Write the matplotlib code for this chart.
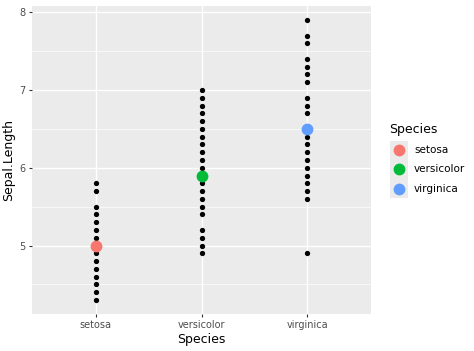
import matplotlib.pyplot as plt
from matplotlib.patches import Rectangle

# Значения (уникальные длины чашелистика по видам)
species = ["setosa", "versicolor", "virginica"]
setosa = [4.3, 4.4, 4.5, 4.6, 4.7, 4.8, 4.9, 5.0, 5.1, 5.2, 5.3, 5.4, 5.5, 5.7, 5.8]
versicolor = [4.9, 5.0, 5.1, 5.2, 5.4, 5.5, 5.6, 5.7, 5.8, 5.9, 6.0, 6.1, 6.2,
              6.3, 6.4, 6.5, 6.6, 6.7, 6.8, 6.9, 7.0]
virginica = [4.9, 5.6, 5.7, 5.8, 5.9, 6.0, 6.1, 6.2, 6.3, 6.4, 6.5, 6.7, 6.8,
             6.9, 7.1, 7.2, 7.3, 7.4, 7.6, 7.7, 7.9]
medians = [5.0, 5.9, 6.5]
colors = ["#F8766D", "#00BA38", "#619CFF"]

W, H = 474, 351
fig = plt.figure(figsize=(W / 100, H / 100), dpi=100)
ax = fig.add_axes([32 / W, 1 - 314 / H, 339 / W, 308 / H])
ax.set_facecolor("#EBEBEB")

groups = [setosa, versicolor, virginica]
for i, vals in enumerate(groups):
    ax.plot([i + 1] * len(vals), vals, "o", color="black", ms=3.8, mew=0, zorder=3)
for i, m in enumerate(medians):
    ax.plot(i + 1, m, "o", color=colors[i], ms=8.5, mew=0, zorder=4)

ax.set_xlim(0.4, 3.6)
ax.set_ylim(4.12, 8.08)
ax.set_xticks([1, 2, 3])
ax.set_xticklabels(species)
ax.set_yticks([5, 6, 7, 8])
ax.set_yticks([4.5, 5.5, 6.5, 7.5], minor=True)
ax.grid(True, which="major", color="white", lw=1.0)
ax.grid(True, which="minor", axis="y", color="white", lw=0.5)
ax.set_axisbelow(True)
for s in ax.spines.values():
    s.set_visible(False)
ax.tick_params(which="major", length=2.5, color="#333333", labelcolor="#4D4D4D",
               labelsize=7, pad=2)
ax.tick_params(which="minor", length=0)
ax.set_xlabel("Species", fontsize=9, labelpad=2)
ax.set_ylabel("Sepal.Length", fontsize=9, labelpad=3)

# Легенда вручную (в пикселях фигуры)
fig.text(389 / W, 1 - 129 / H, "Species", fontsize=9, va="center", ha="left")
for k, (name, c) in enumerate(zip(species, colors)):
    yc = 150 + k * 19.3
    fig.add_artist(Rectangle((390 / W, 1 - (yc + 9.5) / H), 18 / W, 19 / H,
                             transform=fig.transFigure, facecolor="#EBEBEB",
                             edgecolor="none"))
    fig.add_artist(plt.Line2D([399 / W], [1 - yc / H], transform=fig.transFigure,
                              marker="o", ls="", color=c, ms=8.5, mew=0))
    fig.text(414 / W, 1 - yc / H, name, fontsize=7.5, va="center", ha="left")

fig.savefig("out.png", dpi=100)
